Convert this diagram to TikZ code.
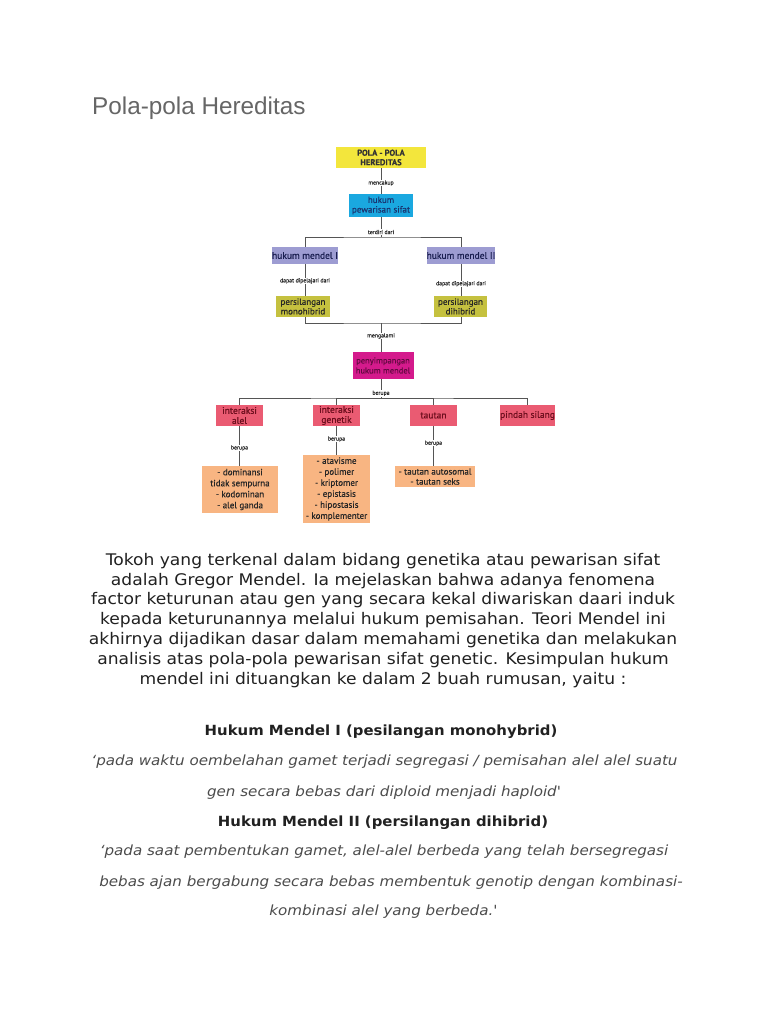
\documentclass[tikz,border=0pt]{standalone}
\usepackage{fontspec}
\setmainfont{DejaVu Sans}
\newfontfamily\paraFont[FakeStretch=1.07]{DejaVu Sans}
\newfontfamily\headFont[FakeStretch=1.063]{DejaVu Sans}
\newfontfamily\italFont[FakeStretch=1.08]{DejaVu Sans}
\newfontfamily\titlefont{Liberation Sans}
\newfontfamily\diagfont[FakeBold=0.5]{PT Sans}
\definecolor{cyellow}{HTML}{F3E63C}
\definecolor{cblue}{HTML}{1AA8E0}
\definecolor{clav}{HTML}{9D9CD2}
\definecolor{colive}{HTML}{C5C13F}
\definecolor{cmag}{HTML}{D41A8C}
\definecolor{cpink}{HTML}{EA5B72}
\definecolor{corange}{HTML}{F8B582}
\definecolor{ctitle}{HTML}{666666}
\definecolor{cline}{HTML}{555555}
\begin{document}
\begin{tikzpicture}[x=1pt,y=1pt,
  box/.style={inner sep=0pt, align=center, font=\diagfont\fontsize{9}{9.6}\selectfont},
  lab/.style={fill=white, inner sep=0.6pt, font=\diagfont\fontsize{5.8}{6}\selectfont, text=black!85},
  conn/.style={draw=cline, line width=0.7pt},
  txt/.style={anchor=base, inner sep=0pt, text=black!87, font=\paraFont\fontsize{16}{16}\selectfont},
  head/.style={anchor=base, inner sep=0pt, text=black!87, font=\headFont\bfseries\fontsize{14}{14}\selectfont},
  ital/.style={anchor=base, inner sep=0pt, text=black!70, font=\italFont\itshape\fontsize{14}{14}\selectfont}]
\fill[white] (0,0) rectangle (768,-1024);
\useasboundingbox (0,0) rectangle (768,-1024);

% title
\node[anchor=base west, inner sep=0pt, text=ctitle, font=\titlefont\fontsize{24.3}{25}\selectfont] (title) at (92,-115) {Pola-pola Hereditas};

% diagram nodes
\node[box, fill=cyellow, minimum width=90, minimum height=21, text=black!80, font=\diagfont\bfseries\fontsize{8.5}{9.5}\selectfont] (pola) at (381,-157.5) {POLA - POLA\\HEREDITAS};
\node[box, fill=cblue, minimum width=64, minimum height=23, text={rgb,255:red,25;green,50;blue,110}] (huk) at (381,-205.5) {hukum\\pewarisan sifat};
\node[box, fill=clav, minimum width=65, minimum height=17, text={rgb,255:red,25;green,30;blue,80}, font=\diagfont\fontsize{9.5}{10}\selectfont] (m1) at (305,-255.5) {hukum mendel I};
\node[box, fill=clav, minimum width=67, minimum height=17, text={rgb,255:red,25;green,30;blue,80}, font=\diagfont\fontsize{9.5}{10}\selectfont] (m2) at (461,-255.5) {hukum mendel II};
\node[box, fill=colive, minimum width=54, minimum height=21, text=black!85] (p1) at (303,-306.5) {persilangan\\monohibrid};
\node[box, fill=colive, minimum width=53, minimum height=21, text=black!85] (p2) at (460.5,-306.5) {persilangan\\dihibrid};
\node[box, fill=cmag, minimum width=61, minimum height=27, text={rgb,255:red,100;green,10;blue,65}, font=\diagfont\fontsize{8.5}{10}\selectfont] (peny) at (383,-365.5) {penyimpangan\\hukum mendel};
\node[box, fill=cpink, minimum width=47, minimum height=21, text={rgb,255:red,110;green,15;blue,30}, font=\diagfont\fontsize{9.5}{10}\selectfont] (ia) at (239.5,-415.5) {interaksi\\alel};
\node[box, fill=cpink, minimum width=47, minimum height=21, text={rgb,255:red,110;green,15;blue,30}, font=\diagfont\fontsize{9.5}{10}\selectfont] (ig) at (336.5,-415.5) {interaksi\\genetik};
\node[box, fill=cpink, minimum width=47, minimum height=21, text={rgb,255:red,110;green,15;blue,30}, font=\diagfont\fontsize{9.5}{10}\selectfont] (ta) at (433.5,-415.5) {tautan};
\node[box, fill=cpink, minimum width=55, minimum height=21, text={rgb,255:red,110;green,15;blue,30}, font=\diagfont\fontsize{9.5}{10}\selectfont] (pin) at (527.5,-415.5) {pindah silang};
\node[box, fill=corange, minimum width=76, minimum height=47, text=black!85, font=\diagfont\fontsize{9}{11}\selectfont] (oa) at (240,-489.5) {- dominansi\\tidak sempurna\\- kodominan\\- alel ganda};
\node[box, fill=corange, minimum width=67, minimum height=68, text=black!85, font=\diagfont\fontsize{9}{11}\selectfont] (og) at (336.5,-489) {- atavisme\\- polimer\\- kriptomer\\- epistasis\\- hipostasis\\- komplementer};
\node[box, fill=corange, minimum width=80, minimum height=21, text=black!85, font=\diagfont\fontsize{9}{10}\selectfont] (ot) at (435,-476.5) {- tautan autosomal\\- tautan seks};

% junctions
\coordinate (j1) at (381,-237);
\coordinate (j2) at (381,-323);
\coordinate (j3) at (381,-398);

% connectors
\draw[conn] (pola) -- (huk) node[lab, pos=0.58] {mencakup};
\draw[conn] (huk) -- (j1) node[lab, pos=0.75] {terdiri dari};
\draw[conn] (m1) |- (j1) -| (m2);
\draw[conn] (m1) -- (m1 |- p1.north) node[lab, pos=0.53] {dapat dipelajari dari};
\draw[conn] (m2) -- (m2 |- p2.north) node[lab, pos=0.62] {dapat dipelajari dari};
\draw[conn] (m1 |- p1.south) |- (j2) -| (m2 |- p2.south);
\draw[conn] (j2) -- (j2 |- peny.north) node[lab, pos=0.45] {mengalami};
\draw[conn] (j2 |- peny.south) -- (j3) node[lab, pos=0.75] {berupa};
\draw[conn] (ia) |- (j3) -| (pin);
\draw[conn] (ig) |- (j3);
\draw[conn] (ta) |- (j3);
\draw[conn] (ia) -- (ia |- oa.north) node[lab, pos=0.55] {berupa};
\draw[conn] (ig) -- (ig |- og.north) node[lab, pos=0.45] {berupa};
\draw[conn] (ta) -- (ta |- ot.north) node[lab, pos=0.43] {berupa};

% paragraph
\node[txt] (t1) at (383,-565) {Tokoh yang terkenal dalam bidang genetika atau pewarisan sifat};
\node[txt] (t2) at (383,-585) {adalah Gregor Mendel. Ia mejelaskan bahwa adanya fenomena};
\node[txt] (t3) at (383,-604.5) {factor keturunan atau gen yang secara kekal diwariskan daari induk};
\node[txt] (t4) at (383,-624.5) {kepada keturunannya melalui hukum pemisahan. Teori Mendel ini};
\node[txt] (t5) at (383,-644.5) {akhirnya dijadikan dasar dalam memahami genetika dan melakukan};
\node[txt] (t6) at (383,-664) {analisis atas pola-pola pewarisan sifat genetic. Kesimpulan hukum};
\node[txt] (t7) at (383,-684) {mendel ini dituangkan ke dalam 2 buah rumusan, yaitu :};

\node[head] (h1) at (381,-735) {Hukum Mendel I (pesilangan monohybrid)};
\node[ital] (i1) at (384.5,-765) {‘pada waktu oembelahan gamet terjadi segregasi / pemisahan alel alel suatu};
\node[ital] (i2) at (384,-796) {gen secara bebas dari diploid menjadi haploid'};
\node[head] (h2) at (383,-826) {Hukum Mendel II (persilangan dihibrid)};
\node[ital] (i3) at (384,-855) {‘pada saat pembentukan gamet, alel-alel berbeda yang telah bersegregasi};
\node[ital] (i4) at (391,-886) {bebas ajan bergabung secara bebas membentuk genotip dengan kombinasi-};
\node[ital] (i5) at (383.5,-915) {kombinasi alel yang berbeda.'};
\end{tikzpicture}
\end{document}
